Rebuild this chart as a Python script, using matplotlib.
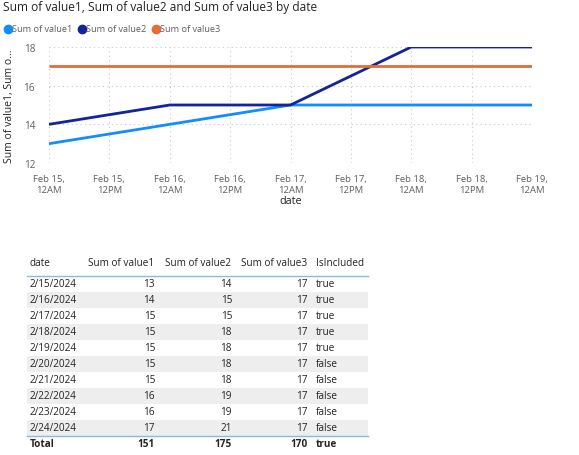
import matplotlib
matplotlib.use("Agg")
import matplotlib.pyplot as plt
import numpy as np

dates = ["2/15/2024","2/16/2024","2/17/2024","2/18/2024","2/19/2024","2/20/2024","2/21/2024","2/22/2024","2/23/2024","2/24/2024"]
value1 = [13,14,15,15,15,15,15,16,16,17]
value2 = [14,15,15,18,18,18,18,19,19,21]
value3 = [17,17,17,17,17,17,17,17,17,17]
included = [True]*5 + [False]*5
xticklabels = ["Feb 15,\n12AM","Feb 15,\n12PM","Feb 16,\n12AM","Feb 16,\n12PM","Feb 17,\n12AM",
               "Feb 17,\n12PM","Feb 18,\n12AM","Feb 18,\n12PM","Feb 19,\n12AM"]

plt.rcParams['font.family'] = ['Open Sans', 'DejaVu Sans']
W, H = 579, 456
fig = plt.figure(figsize=(W/100, H/100), dpi=100)

# chart
ax = fig.add_axes([49/W, 1-164/H, (532-49)/W, (164-48)/H])
idx = [i for i, f in enumerate(included) if f]
x = np.arange(len(idx), dtype=float)
colors = ["#118DFF", "#12239E", "#E66C37"]
for vals, c in zip([value1, value2, value3], colors):
    ax.plot(x, [vals[i] for i in idx], color=c, lw=2.0, solid_capstyle='butt')
ax.set_ylim(12, 18)
ax.set_xlim(0, x[-1])
ax.set_yticks([12, 14, 16, 18])
ax.set_xticks(np.arange(0, x[-1]+0.01, 0.5))
ax.set_xticklabels(xticklabels, fontsize=6.8, color="#605E5C")
ax.tick_params(axis='y', labelsize=7.2, labelcolor="#605E5C", length=0, pad=10)
ax.tick_params(axis='x', length=0, pad=8)
ax.grid(True, color="#C8C8C8", ls=(0, (1, 3)), lw=0.8)
for s in ax.spines.values():
    s.set_visible(False)
ax.set_xlabel("date", fontsize=7.8, color="#252423", labelpad=1)
ax.set_ylabel("Sum of value1, Sum o...", fontsize=7.5, color="#252423", labelpad=6)

# overlay
ov = fig.add_axes([0, 0, 1, 1])
ov.set_xlim(0, W); ov.set_ylim(H, 0); ov.axis('off')
ov.text(3, 8, "Sum of value1, Sum of value2 and Sum of value3 by date", fontsize=8.6, color="#252423", va='center')
lx = [4, 78, 152]
for x0, c, name in zip(lx, colors, ["Sum of value1", "Sum of value2", "Sum of value3"]):
    ov.plot(x0+4, 30, 'o', color=c, ms=6)
    ov.text(x0+8.5, 30, name, fontsize=6.6, color="#605E5C", va='center')

# table
fs = 7.2
ov.text(30, 264, "date", fontsize=fs, color="#252423", va='center')
heads = ["Sum of value1", "Sum of value2", "Sum of value3"]
rights = [155, 232, 308]
for r, h in zip(rights, heads):
    ov.text(r-1, 264, h, fontsize=fs, color="#252423", va='center', ha='right')
ov.text(316, 264, "IsIncluded", fontsize=fs, color="#252423", va='center')
ov.plot([27, 368], [277, 277], color="#8AB8E6", lw=1)
y0, step = 285, 16
for i, d in enumerate(dates):
    y = y0 + i*step
    if i % 2 == 1:
        ov.add_patch(plt.Rectangle((27, y-8), 341, 16, color="#EEEEEE", lw=0))
    ov.text(30, y, d, fontsize=fs, color="#252423", va='center')
    for r, v in zip(rights, [value1[i], value2[i], value3[i]]):
        ov.text(r, y, str(v), fontsize=fs, color="#252423", va='center', ha='right')
    ov.text(316, y, "true" if included[i] else "false", fontsize=fs, color="#252423", va='center')
ov.plot([27, 368], [437, 437], color="#8AB8E6", lw=1)
ty = 445
ov.text(30, ty, "Total", fontsize=fs, color="#252423", va='center', weight='bold')
for r, v in zip(rights, [sum(value1), sum(value2), sum(value3)]):
    ov.text(r, ty, str(v), fontsize=fs, color="#252423", va='center', ha='right', weight='bold')
ov.text(316, ty, "true", fontsize=fs, color="#252423", va='center', weight='bold')

fig.savefig("out.png", dpi=100)
